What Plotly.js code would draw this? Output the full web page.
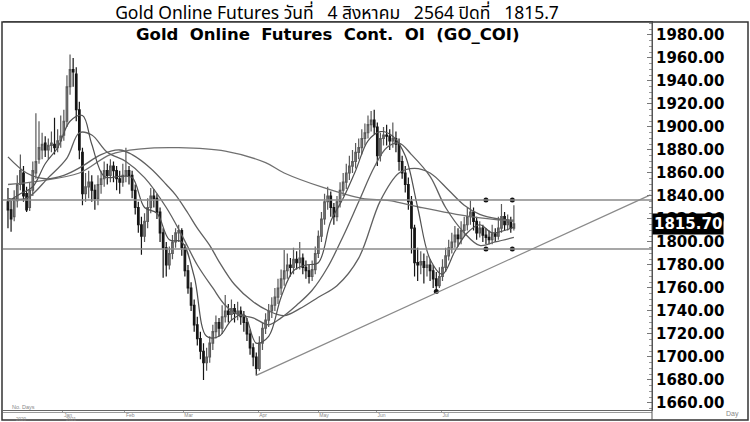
<!DOCTYPE html>
<html>
<head>
<meta charset="utf-8">
<script src="https://cdn.plot.ly/plotly-3.0.1.min.js"></script>
<style>html,body{margin:0;padding:0;background:#fff;}#chart{width:750px;height:422px;}</style>
</head>
<body>
<div id="chart"></div>
<script>
// ---- data ----
const openP = [1835,1828,1822,1836,1850,1860,1842,1830,1845,1860,
 1872,1880,1886,1880,1884,1885,1882,1888,1893,1905,
 1935,1950,1946,1915,1878,1842,1848,1852,1845,1838,
 1850,1855,1862,1858,1866,1862,1855,1852,1858,1862,
 1858,1845,1830,1815,1805,1818,1830,1840,1838,1826,
 1808,1795,1780,1790,1800,1808,1810,1795,1775,1760,
 1745,1728,1716,1705,1695,1700,1712,1722,1730,1725,
 1735,1740,1737,1742,1738,1740,1735,1730,1720,1708,
 1700,1690,1712,1725,1732,1740,1745,1752,1760,1768,
 1775,1780,1778,1785,1782,1786,1778,1775,1770,1776,
 1790,1805,1820,1835,1840,1830,1822,1835,1845,1852,
 1860,1866,1870,1878,1882,1890,1895,1902,1906,1900,
 1875,1890,1893,1892,1888,1890,1885,1870,1860,1850,
 1835,1812,1782,1780,1783,1778,1780,1775,1768,1762,
 1770,1778,1788,1795,1800,1806,1803,1810,1815,1822,
 1826,1818,1808,1812,1806,1804,1802,1807,1805,1812,
 1822,1815,1818,1812];
const highP = [1847,1836,1845,1858,1876,1866,1848,1852,1870,1912,
 1905,1895,1892,1890,1896,1908,1898,1910,1915,1945,
 1963,1960,1952,1922,1882,1860,1862,1858,1850,1858,
 1862,1870,1868,1872,1870,1866,1862,1868,1882,1866,
 1862,1850,1835,1822,1825,1838,1847,1846,1842,1830,
 1812,1800,1796,1806,1812,1815,1812,1798,1780,1765,
 1750,1735,1722,1712,1708,1718,1728,1736,1734,1745,
 1754,1746,1750,1746,1748,1744,1740,1734,1724,1712,
 1704,1718,1730,1738,1746,1752,1760,1768,1776,1793,
 1790,1786,1795,1792,1800,1790,1784,1780,1784,1796,
 1810,1826,1842,1848,1844,1834,1840,1852,1860,1868,
 1875,1880,1886,1890,1898,1903,1910,1914,1915,1904,
 1895,1900,1902,1898,1904,1896,1890,1875,1866,1856,
 1840,1815,1795,1792,1790,1788,1785,1780,1774,1778,
 1785,1795,1802,1808,1814,1812,1818,1822,1830,1836,
 1830,1822,1818,1815,1812,1810,1815,1812,1822,1833,
 1826,1824,1822,1832];
const lowP = [1812,1809,1818,1830,1845,1835,1826,1827,1840,1855,
 1868,1872,1874,1872,1878,1876,1878,1882,1888,1900,
 1928,1935,1905,1872,1832,1835,1838,1835,1828,1832,
 1842,1848,1850,1852,1852,1845,1842,1848,1852,1850,
 1838,1824,1808,1789,1800,1812,1825,1830,1820,1800,
 1769,1770,1776,1785,1795,1800,1788,1770,1755,1740,
 1722,1710,1698,1680,1688,1695,1706,1716,1718,1720,
 1730,1730,1732,1730,1732,1728,1722,1714,1702,1692,
 1684,1688,1706,1720,1726,1734,1740,1746,1754,1762,
 1768,1770,1772,1776,1776,1772,1768,1764,1766,1772,
 1786,1800,1815,1828,1822,1815,1818,1830,1840,1846,
 1854,1860,1864,1872,1876,1884,1890,1896,1894,1866,
 1870,1884,1884,1880,1882,1878,1862,1855,1843,1828,
 1790,1770,1766,1772,1764,1770,1766,1760,1757,1760,
 1766,1774,1784,1790,1795,1796,1798,1805,1810,1815,
 1810,1802,1804,1800,1798,1798,1798,1800,1802,1808,
 1810,1810,1808,1810];
const closeP = [1828,1820,1838,1850,1862,1840,1828,1845,1862,1870,
 1882,1885,1880,1884,1886,1882,1888,1892,1905,1935,
 1950,1948,1915,1880,1842,1848,1852,1845,1838,1850,
 1855,1862,1858,1866,1862,1855,1852,1858,1862,1858,
 1845,1830,1815,1805,1818,1830,1840,1838,1826,1808,
 1795,1780,1790,1800,1808,1810,1795,1775,1760,1745,
 1728,1716,1705,1695,1700,1712,1722,1730,1725,1735,
 1740,1737,1742,1738,1740,1735,1730,1720,1708,1700,
 1690,1712,1725,1732,1740,1745,1752,1760,1768,1775,
 1780,1778,1785,1782,1786,1778,1775,1770,1776,1790,
 1805,1820,1835,1840,1830,1822,1835,1845,1852,1860,
 1866,1870,1878,1882,1890,1895,1902,1906,1900,1875,
 1890,1893,1892,1888,1890,1885,1870,1860,1850,1835,
 1812,1782,1780,1783,1778,1780,1775,1768,1762,1770,
 1778,1788,1795,1800,1806,1803,1810,1815,1822,1826,
 1818,1808,1812,1806,1804,1802,1807,1805,1812,1822,
 1815,1818,1812,1815.7];

// moving averages (bar index, price)
const ma10X = [0,4,8,12,16,20,24,27,31,36,40,44,48,52,56,60,64,68,72,76,80,84,88,92,96,100,104,108,112,116,120,124,128,132,136,140,144,148,152,156,160,163];
const ma10Y = [1835,1842,1848,1868,1882,1905,1910,1885,1857,1857,1856,1830,1825,1802,1800,1770,1718,1718,1732,1737,1712,1718,1752,1775,1780,1782,1818,1838,1862,1888,1896,1892,1875,1830,1785,1772,1792,1808,1815,1808,1810,1813];
const ma25X = [0,6,13,19,23,27,32,38,44,51,56,61,66,70,74,79,84,88,93,98,103,108,113,118,122,126,130,136,141,147,152,157,163];
const ma25Y = [1838,1838,1856,1873,1895,1893,1878,1870,1856,1830,1806,1780,1760,1745,1737,1734,1728,1734,1745,1758,1778,1805,1835,1865,1882,1886,1876,1857,1830,1808,1797,1800,1804];
const ma50X = [0,6,12,18,24,30,36,40,46,51,54,58,61,65,68,73,79,84,89,94,100,106,113,120,126,131,136,142,147,152,158,163];
const ma50Y = [1874,1860,1855,1858,1866,1876,1880,1876,1864,1850,1841,1825,1812,1797,1783,1763,1748,1740,1736,1742,1752,1762,1786,1836,1860,1864,1860,1845,1832,1824,1820,1819];
const ma200X = [0,10,23,33,43,55,70,83,89,102,114,123,133,149,163];
const ma200Y = [1850,1853,1860,1876,1881,1882,1879,1869,1860,1847,1838,1836,1830,1822,1818];

// support / resistance, trend line, marked points
const resistance = 1836.5;
const support = 1794;
const trendX = [80, 207];
const trendY = [1684, 1841];
const dotX = [154, 162.5, 154, 162.5, 138];
const dotY = [1836.5, 1836.5, 1794, 1794, 1757];
const lastClose = 1815.7;

// axes
const yTicks = [1660,1680,1700,1720,1740,1760,1780,1800,1820,1840,1860,1880,1900,1920,1940,1960,1980];
const monthTicks = [17.7, 37.7, 56.5, 80.6, 100, 118.7, 139.7];
const monthLabels = ['Jan','Feb','Mar','Apr','May','Jun','Jul'];
const yearLabels = ['2020','2021'];
const yearPos = [2, 17.9];

const idx = closeP.map((_, i) => i);
const yRange = [1653.9, 1991.3];
const xRange = [-1.6, 207.5];

const maLine = (x, y, w, c) => ({type:'scatter', mode:'lines', x:x, y:y, hoverinfo:'skip',
  line:{color:c, width:w, shape:'spline', smoothing:1}, showlegend:false});

const traces = [
  maLine(ma200X, ma200Y, 1.3, '#707070'),
  maLine(ma50X, ma50Y, 1.3, '#606060'),
  maLine(ma25X, ma25Y, 1.3, '#606060'),
  maLine(ma10X, ma10Y, 1.2, '#505050'),
  {type:'candlestick', x:idx, open:openP, high:highP, low:lowP, close:closeP,
   increasing:{line:{color:'#5a5a5a', width:1.2}, fillcolor:'#9a9a9a'},
   decreasing:{line:{color:'#151515', width:1.2}, fillcolor:'#151515'},
   whiskerwidth:0, showlegend:false, hoverinfo:'skip'},
  {type:'scatter', mode:'markers', x:dotX, y:dotY, marker:{color:'#111', size:5},
   showlegend:false, hoverinfo:'skip'},
  {type:'scatter', mode:'lines', x:trendX, y:trendY, line:{color:'#8a8a8a', width:1.2},
   showlegend:false, hoverinfo:'skip'}
];

const W = 649, H = 388; // plot area size in px
const px = (p) => (p - 3) / W;     // page x -> paper x
const py = (p) => (410 - p) / H;   // page y -> paper y

const layout = {
  width:750, height:422,
  margin:{l:3, r:98, t:22, b:12, pad:0},
  paper_bgcolor:'#fff', plot_bgcolor:'#fff',
  showlegend:false,
  title:{text:'Gold Online Futures วันที่   4 สิงหาคม   2564 ปิดที่   1815.7',
    x:337/750, xanchor:'center', y:1 - 12.5/422, yanchor:'middle',
    font:{family:"'Noto Sans Thai', 'Noto Sans', 'DejaVu Sans', sans-serif", size:17.5, color:'#000'}},
  xaxis:{range:xRange, showgrid:false, zeroline:false, rangeslider:{visible:false},
    tickvals:monthTicks, ticktext:monthLabels, ticks:'outside', ticklen:1, tickcolor:'#999',
    ticklabelposition:'outside right',
    tickfont:{family:'Liberation Sans, Arial, sans-serif', size:5, color:'#888'},
    showline:true, linecolor:'#666', linewidth:1, mirror:true, fixedrange:true},
  yaxis:{range:yRange, side:'right', showgrid:false, zeroline:false,
    tickvals:yTicks, ticktext:yTicks.map(v => v.toFixed(2)),
    ticks:'inside', ticklen:5, tickcolor:'#777',
    minor:{ticks:'inside', ticklen:3, tickcolor:'#999', dtick:5},
    tickfont:{family:"'DejaVu Sans', sans-serif", size:15, color:'#000', weight:'bold'},
    showline:true, linecolor:'#555', linewidth:1},
  yaxis2:{range:yRange, overlaying:'y', side:'left', showgrid:false, zeroline:false,
    showticklabels:false, ticks:'inside', ticklen:4, tickcolor:'#999', dtick:10,
    showline:true, linecolor:'#666'},
  shapes:[
    {type:'line', xref:'paper', x0:0, x1:1, yref:'y', y0:resistance, y1:resistance,
     line:{color:'#8a8a8a', width:1.5}},
    {type:'line', xref:'paper', x0:0, x1:1, yref:'y', y0:support, y1:support,
     line:{color:'#8a8a8a', width:1.5}},
    {type:'rect', xref:'paper', yref:'paper', x0:px(2), x1:px(748), y0:py(420), y1:py(22),
     line:{color:'#333', width:1.5}, fillcolor:'rgba(0,0,0,0)'},
    {type:'line', xref:'paper', yref:'paper', x0:0, x1:1, y0:py(412.5), y1:py(412.5),
     line:{color:'#999', width:1}},
    {type:'line', xref:'paper', yref:'paper', x0:1, x1:1, y0:py(420), y1:py(22),
     line:{color:'#555', width:1}}
  ],
  annotations:[
    {text:'<b>Gold  Online  Futures  Cont.  OI  (GO_COI)</b>', xref:'paper', yref:'paper',
     x:px(327), y:py(34.5), xanchor:'center', yanchor:'middle', showarrow:false,
     font:{family:"'DejaVu Sans', sans-serif", size:16.5, color:'#000'}},
    {text:'<b>' + lastClose.toFixed(2) + '</b>', xref:'paper', yref:'y', x:1, y:lastClose,
     xanchor:'left', yanchor:'middle', showarrow:false, bgcolor:'#000', borderpad:1,
     font:{family:"'DejaVu Sans', sans-serif", size:15, color:'#fff'}},
    {text:'No. Days', xref:'paper', yref:'paper', x:px(10), y:py(406.5), xanchor:'left', yanchor:'middle',
     showarrow:false, font:{family:'Liberation Sans, Arial, sans-serif', size:5.5, color:'#888'}},
    {text:'Day', xref:'paper', yref:'paper', x:px(732), y:py(414), xanchor:'center', yanchor:'middle',
     showarrow:false, font:{family:'Liberation Sans, Arial, sans-serif', size:7, color:'#888'}}
  ].concat(yearLabels.map((t, k) => ({text:t, xref:'x', yref:'paper', x:yearPos[k], y:py(420),
     xanchor:'left', yanchor:'middle', showarrow:false,
     font:{family:'Liberation Sans, Arial, sans-serif', size:4.5, color:'#888'}})))
};

Plotly.newPlot('chart', traces, layout, {displayModeBar:false, staticPlot:true});
</script>
</body>
</html>
